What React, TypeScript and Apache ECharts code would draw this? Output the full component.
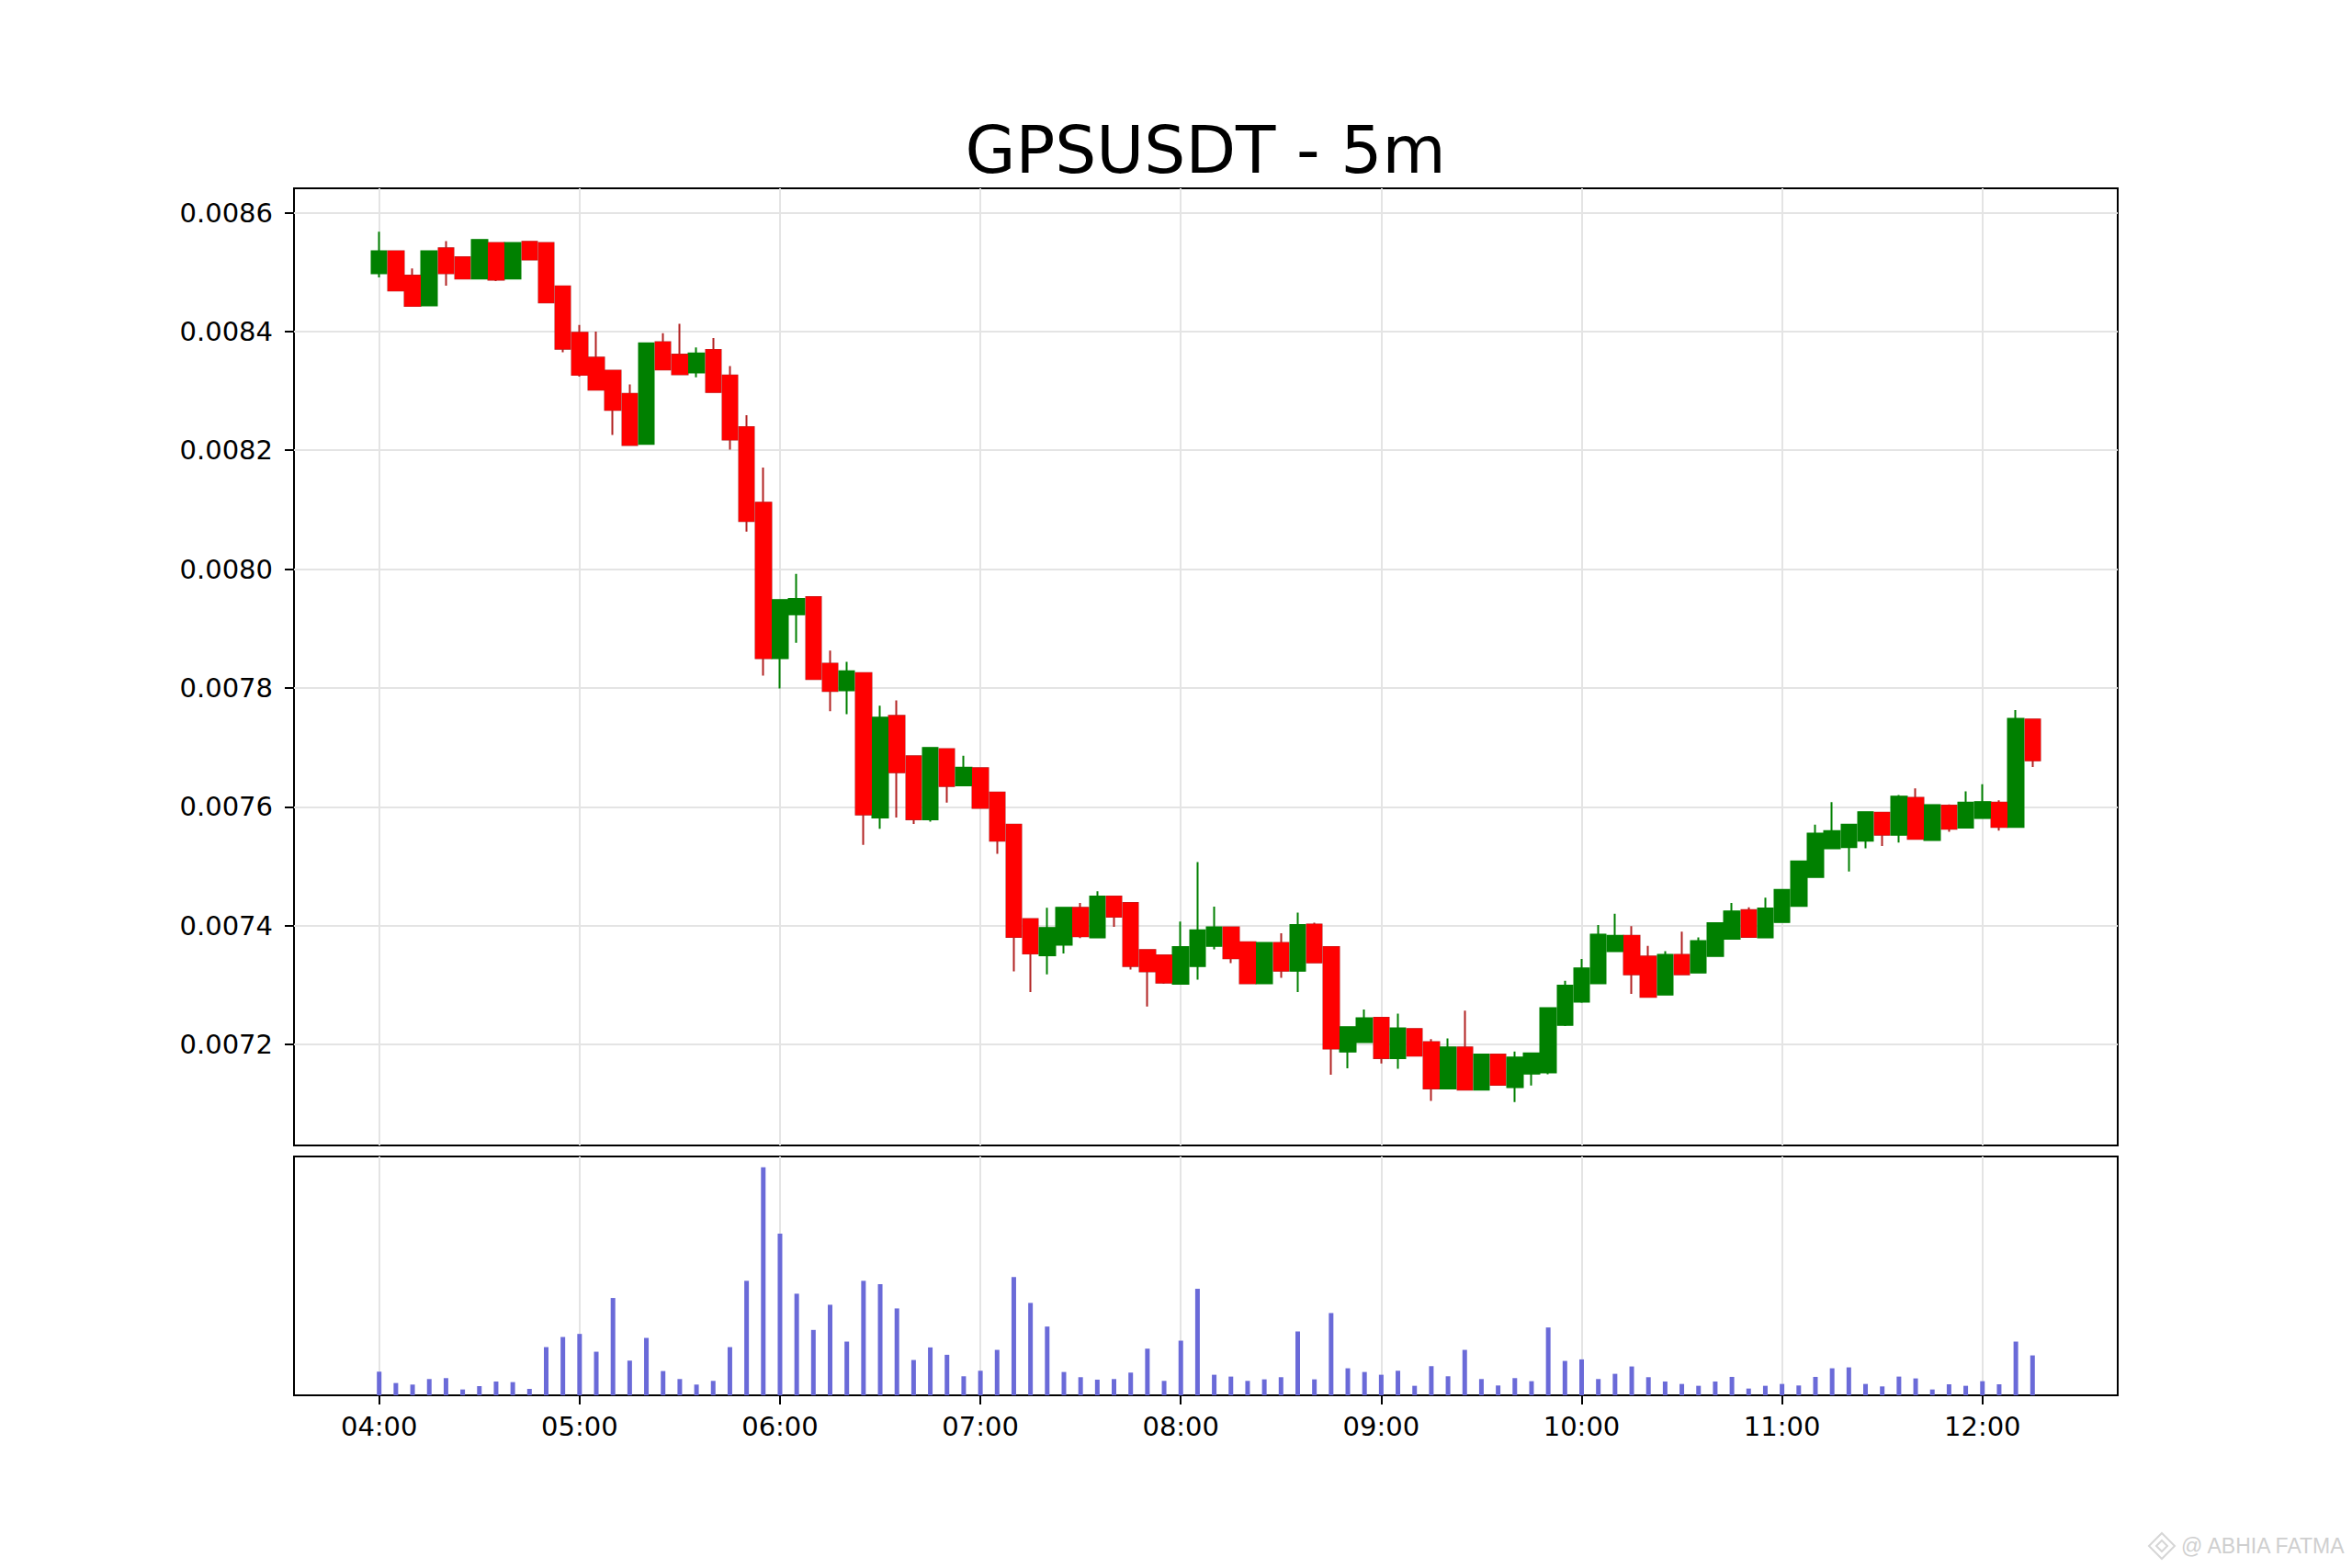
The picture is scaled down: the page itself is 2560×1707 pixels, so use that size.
import React, { useEffect, useRef } from "react";
import * as echarts from "echarts";

const TITLE = "GPSUSDT - 5m";
const WATERMARK = "@ ABHIA FATMA";

// 5-minute candles, index 0 = 04:00 ... 99 = 12:15
const openP = [
  0.008498, 0.008535, 0.008494, 0.008444, 0.00854, 0.008525, 0.008489, 0.008549, 0.008489, 0.008551,
  0.008549, 0.008476, 0.008398, 0.008356, 0.008334, 0.008295, 0.008211, 0.008382, 0.008361, 0.008331,
  0.008369, 0.008326, 0.008239, 0.008112, 0.00785, 0.007924, 0.007953, 0.007841, 0.007796, 0.007825,
  0.007582, 0.007753, 0.007685, 0.007579, 0.007697, 0.007636, 0.007665, 0.007624, 0.00757, 0.007411,
  0.00735, 0.007368, 0.00743, 0.00738, 0.007449, 0.007438, 0.007359, 0.00735, 0.007302, 0.007332,
  0.007366, 0.007397, 0.007372, 0.007303, 0.007371, 0.007324, 0.007402, 0.007364, 0.007188, 0.007204,
  0.007245, 0.007177, 0.007226, 0.007204, 0.007126, 0.007195, 0.007124, 0.007183, 0.007128, 0.007151,
  0.007153, 0.007233, 0.007272, 0.007303, 0.007357, 0.007383, 0.007348, 0.007284, 0.007351, 0.007321,
  0.007349, 0.007378, 0.007426, 0.00738, 0.007406, 0.007433, 0.007482, 0.00753, 0.007532, 0.007543,
  0.00759, 0.007553, 0.007615, 0.007544, 0.007602, 0.007565, 0.007581, 0.007607, 0.007566, 0.007747,
];
const closeP = [
  0.008535, 0.008469, 0.008443, 0.008535, 0.008498, 0.008489, 0.008554, 0.008487, 0.008549, 0.008521,
  0.008449, 0.008371, 0.008327, 0.008302, 0.008268, 0.008209, 0.00838, 0.008336, 0.008328, 0.008363,
  0.008298, 0.008218, 0.008081, 0.00785, 0.007948, 0.00795, 0.007815, 0.007795, 0.007828, 0.007587,
  0.00775, 0.007658, 0.007579, 0.007699, 0.007635, 0.007666, 0.007598, 0.007543, 0.007381, 0.007353,
  0.007396, 0.00743, 0.007382, 0.007449, 0.007415, 0.007332, 0.007323, 0.007304, 0.007364, 0.007392,
  0.007397, 0.007345, 0.007303, 0.007371, 0.007324, 0.007401, 0.007338, 0.007193, 0.007229, 0.007244,
  0.007177, 0.007227, 0.007181, 0.007126, 0.007195, 0.007124, 0.007183, 0.007132, 0.007178, 0.007185,
  0.007261, 0.007299, 0.007328, 0.007385, 0.007383, 0.007318, 0.00728, 0.007351, 0.007318, 0.007374,
  0.007404, 0.007424, 0.007381, 0.007429, 0.00746, 0.007508, 0.007555, 0.007559, 0.00757, 0.007591,
  0.007553, 0.007617, 0.007546, 0.007603, 0.007563, 0.007607, 0.007608, 0.007566, 0.007748, 0.007678,
];
const highP = [
  0.008568, 0.008535, 0.008506, 0.008535, 0.008552, 0.008525, 0.008554, 0.008549, 0.008549, 0.008551,
  0.008549, 0.008476, 0.008411, 0.0084, 0.008334, 0.008311, 0.00838, 0.008397, 0.008413, 0.008373,
  0.008389, 0.008342, 0.008259, 0.008171, 0.007948, 0.007992, 0.007953, 0.007863, 0.007844, 0.007825,
  0.00777, 0.007779, 0.007685, 0.007699, 0.007697, 0.007686, 0.007665, 0.007624, 0.00757, 0.007411,
  0.00743, 0.00743, 0.007438, 0.007458, 0.007449, 0.007438, 0.007359, 0.00735, 0.007407, 0.007507,
  0.007432, 0.007397, 0.007372, 0.007371, 0.007387, 0.007422, 0.007405, 0.007364, 0.007229, 0.007259,
  0.007245, 0.007252, 0.007226, 0.007209, 0.00721, 0.007257, 0.007183, 0.007183, 0.007188, 0.007185,
  0.007261, 0.007307, 0.007344, 0.007401, 0.00742, 0.007399, 0.007366, 0.007357, 0.00739, 0.00738,
  0.007404, 0.007438, 0.007431, 0.007447, 0.00746, 0.007508, 0.00757, 0.007608, 0.00757, 0.007591,
  0.00759, 0.00762, 0.007631, 0.007603, 0.007604, 0.007626, 0.007638, 0.007611, 0.007763, 0.007747,
];
const lowP = [
  0.008491, 0.008469, 0.008443, 0.008444, 0.008477, 0.008489, 0.008489, 0.008485, 0.008489, 0.008521,
  0.008449, 0.008365, 0.008324, 0.008302, 0.008226, 0.008209, 0.008211, 0.008336, 0.008328, 0.008323,
  0.008298, 0.008201, 0.008063, 0.007821, 0.007799, 0.007876, 0.007815, 0.007761, 0.007756, 0.007536,
  0.007563, 0.007582, 0.007571, 0.007575, 0.007607, 0.007636, 0.007598, 0.007521, 0.007323, 0.007288,
  0.007318, 0.007353, 0.007379, 0.00738, 0.007398, 0.007326, 0.007264, 0.007302, 0.007302, 0.007309,
  0.00736, 0.007337, 0.007303, 0.007303, 0.007312, 0.007288, 0.007338, 0.007149, 0.00716, 0.007204,
  0.007168, 0.007159, 0.007181, 0.007105, 0.007126, 0.007124, 0.007123, 0.007132, 0.007103, 0.007131,
  0.00715, 0.007231, 0.00727, 0.007303, 0.007357, 0.007285, 0.00728, 0.007284, 0.007318, 0.007321,
  0.007349, 0.007378, 0.007381, 0.00738, 0.007406, 0.007433, 0.007482, 0.00753, 0.007491, 0.00753,
  0.007534, 0.00754, 0.007546, 0.007544, 0.007558, 0.007565, 0.007581, 0.00756, 0.007566, 0.007667,
];
const volumes = [
  77, 40, 35, 53, 56, 19, 30, 45, 43, 21,
  157, 190, 200, 142, 317, 113, 187, 79, 53, 35,
  47, 157, 373, 743, 527, 331, 213, 295, 175, 373,
  362, 283, 115, 156, 132, 62, 80, 148, 385, 301,
  224, 76, 59, 51, 53, 74, 152, 47, 178, 347,
  67, 61, 47, 52, 59, 208, 52, 268, 88, 76,
  67, 80, 31, 95, 62, 148, 53, 32, 56, 46,
  221, 112, 117, 53, 70, 94, 59, 45, 37, 31,
  45, 60, 22, 31, 37, 32, 60, 88, 91, 37,
  29, 61, 55, 19, 36, 31, 46, 36, 175, 130,
];
const hourTickIndex = [0, 12, 24, 36, 48, 60, 72, 84, 96];
const hourTickLabels = ["04:00", "05:00", "06:00", "07:00", "08:00", "09:00", "10:00", "11:00", "12:00"];
const priceTicks = [0.0072, 0.0074, 0.0076, 0.0078, 0.008, 0.0082, 0.0084, 0.0086];

const FONT = "'DejaVu Sans', 'Liberation Sans', sans-serif";

export default function App() {
  const ref = useRef<HTMLDivElement>(null);

  useEffect(() => {
    if (!ref.current) return;
    const chart = echarts.init(ref.current, null, { renderer: "svg" });

    const candles = openP.map((o, i) => [i, o, closeP[i], lowP[i], highP[i]]);
    const bodies = openP.map((o, i) => [i, o, closeP[i], Math.min(o, closeP[i]), Math.max(o, closeP[i])]);
    const vols = volumes.map((v, i) => [i, v]);

    const xMin = -5.1;
    const xMax = 104.1;
    const gridLineStyle = { color: "#e4e4e4", width: 2 };
    const xLabelFmt = (v: number) => {
      const k = hourTickIndex.indexOf(Math.round(v));
      return k >= 0 ? hourTickLabels[k] : "";
    };

    const option: any = {
      animation: false,
      backgroundColor: "#ffffff",
      textStyle: { fontFamily: FONT },
      grid: [
        {
          left: 320, top: 205, width: 1985, height: 1042,
          show: true, borderColor: "#000000", borderWidth: 2, backgroundColor: "transparent",
          containLabel: false, outerBoundsMode: "none",
        },
        {
          left: 320, top: 1259, width: 1985, height: 260,
          show: true, borderColor: "#000000", borderWidth: 2, backgroundColor: "transparent",
          containLabel: false, outerBoundsMode: "none",
        },
      ],
      xAxis: [
        {
          type: "value", gridIndex: 0, min: xMin, max: xMax, position: "bottom",
          axisLine: { show: false, onZero: false },
          axisTick: { show: false, customValues: hourTickIndex },
          axisLabel: { show: false, customValues: hourTickIndex },
          splitLine: { show: true, lineStyle: gridLineStyle },
        },
        {
          type: "value", gridIndex: 1, min: xMin, max: xMax, position: "bottom",
          axisLine: { show: false, onZero: false },
          axisTick: { show: true, length: 10, customValues: hourTickIndex, lineStyle: { color: "#000", width: 2 } },
          axisLabel: {
            show: true, customValues: hourTickIndex, formatter: xLabelFmt,
            fontSize: 29, color: "#000", fontFamily: FONT, margin: 19,
          },
          splitLine: { show: true, lineStyle: gridLineStyle },
        },
      ],
      yAxis: [
        {
          type: "value", gridIndex: 0, min: 0.00703, max: 0.008641, position: "left",
          axisLine: { show: false, onZero: false },
          axisTick: { show: true, length: 10, customValues: priceTicks, lineStyle: { color: "#000", width: 2 } },
          axisLabel: {
            show: true, customValues: priceTicks, formatter: (v: number) => v.toFixed(4),
            fontSize: 29, color: "#000", fontFamily: FONT, margin: 23,
          },
          splitLine: { show: true, lineStyle: gridLineStyle },
        },
        {
          type: "value", gridIndex: 1, min: 0, max: 778, position: "left",
          axisLine: { show: false, onZero: false },
          axisTick: { show: false },
          axisLabel: { show: false },
          splitLine: { show: false },
        },
      ],
      series: [
        {
          name: "wicks",
          type: "candlestick",
          xAxisIndex: 0, yAxisIndex: 0,
          data: candles,
          encode: { x: 0, y: [1, 2, 3, 4] },
          barWidth: 17,
          itemStyle: {
            color: "#008000", borderColor: "#008000",
            color0: "#ff0000", borderColor0: "#b22222",
            borderWidth: 2,
          },
        },
        {
          name: "bodies",
          type: "candlestick",
          xAxisIndex: 0, yAxisIndex: 0,
          data: bodies,
          encode: { x: 0, y: [1, 2, 3, 4] },
          barWidth: 17,
          itemStyle: {
            color: "#008000", borderColor: "#008000",
            color0: "#ff0000", borderColor0: "#ff0000",
            borderWidth: 1,
          },
        },
        {
          name: "volume",
          type: "bar",
          xAxisIndex: 1, yAxisIndex: 1,
          data: vols,
          barWidth: 5,
          itemStyle: { color: "#6a6ad8" },
        },
      ],
      graphic: [
        {
          type: "text", x: 1312, y: 163,
          style: {
            text: TITLE, fontSize: 71, fontFamily: FONT, fill: "#000",
            align: "center", verticalAlign: "middle",
          },
        },
        {
          type: "polygon",
          shape: { points: [[2353, 1669], [2367, 1683], [2353, 1697], [2339, 1683]] },
          style: { fill: "none", stroke: "#d6d6d6", lineWidth: 2 },
        },
        {
          type: "polygon",
          shape: { points: [[2353, 1677], [2359, 1683], [2353, 1689], [2347, 1683]] },
          style: { fill: "none", stroke: "#d6d6d6", lineWidth: 2 },
        },
        {
          type: "text", x: 2374, y: 1683,
          style: {
            text: WATERMARK, fontSize: 23, fontFamily: "'Liberation Sans', Arial, sans-serif",
            fill: "#cfcfcf", align: "left", verticalAlign: "middle",
          },
        },
      ],
    };

    chart.setOption(option);
    return () => chart.dispose();
  }, []);

  return (
    <div
      ref={ref}
      style={{ position: "absolute", left: 0, top: 0, width: 2560, height: 1707, background: "#fff" }}
    />
  );
}
